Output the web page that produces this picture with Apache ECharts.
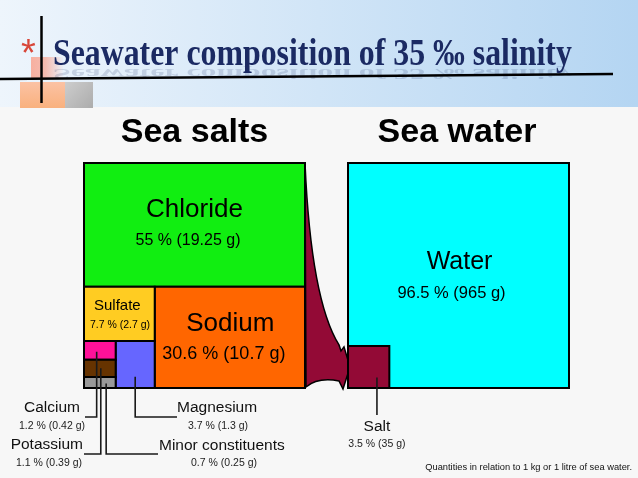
<!DOCTYPE html>
<html><head><meta charset="utf-8">
<script src="https://cdn.jsdelivr.net/npm/echarts@6/dist/echarts.min.js"></script>
<style>html,body{margin:0;padding:0;background:#fff}#c{width:638px;height:478px}</style>
</head><body><div id="c"></div>
<script>
// ---- data ----
const titleText = 'Seawater composition of 35 \u2030 salinity';
const headers = ['Sea salts', 'Sea water'];
const saltNames = ['Chloride', 'Sodium', 'Sulfate', 'Magnesium', 'Calcium', 'Potassium', 'Minor constituents'];
const saltPercent = [55, 30.6, 7.7, 3.7, 1.2, 1.1, 0.7];
const saltGrams = [19.25, 10.7, 2.7, 1.3, 0.42, 0.39, 0.25];
const waterNames = ['Water', 'Salt'];
const waterPercent = [96.5, 3.5];
const waterGrams = [965, 35];
const noteText = 'Quantities in relation to 1 kg or 1 litre of sea water.';

// ---- styles ----
const SANS = '"Liberation Sans", Arial, sans-serif';
const SERIF = '"Liberation Serif", "Times New Roman", serif';
const colors = {
  'Chloride': '#11ee11', 'Sodium': '#ff6600', 'Sulfate': '#ffcc22', 'Magnesium': '#6666ff',
  'Calcium': '#ff1199', 'Potassium': '#663300', 'Minor constituents': '#999999',
  'Water': '#00ffff', 'Salt': '#930a36'
};
// nesting of the slice-and-dice layout (alternating vertical / horizontal cuts)
const saltTree = ['Chloride', [['Sulfate', [['Calcium', 'Potassium', 'Minor constituents'], 'Magnesium']], 'Sodium']];
// inner labels: [dx, dy, fontSize] relative to cell centre
const innerLabels = {
  'Chloride': { n: [0, -15, 26], v: [-6.5, 16, 16] },
  'Sodium': { n: [0.5, -13.5, 26], v: [-6, 16.5, 18] },
  'Sulfate': { n: [-2, -7.5, 15], v: [0.6, 11, 10.5] },
  'Water': { n: [1, -13.5, 25], v: [-7, 17.5, 16.5] }
};
// callouts: anchor fraction in cell, elbow offset below box, end x offset from box left, label placement
const callouts = {
  'Calcium': { ax: 0.4, ay: 0.58, elbow: 29, endX: 1, n: [-4, 20, 'right'], v: [-32, 38] },
  'Potassium': { ax: 0.53, ay: 0.5, elbow: 66, endX: 0, n: [-1, 57, 'right'], v: [-35, 75] },
  'Minor constituents': { ax: 0.7, ay: 0.6, elbow: 66, endX: 74, n: [75, 58, 'left'], v: [140, 75] },
  'Magnesium': { ax: 0.5, ay: 0.76, elbow: 29, endX: 93, n: [93, 20, 'left'], v: [134, 38] },
  'Salt': { ax: 0.7, ay: 0.75, elbow: 27, endX: null, n: [null, 39, 'center'], v: [null, 56] }
};

function fmt(p, g) { return p + ' % (' + g + ' g)'; }

// ---- slice-and-dice layout from the values ----
function leafSum(node) {
  return typeof node === 'string' ? saltPercent[saltNames.indexOf(node)] : node.reduce((s, n) => s + leafSum(n), 0);
}
function layout(node, x0, y0, x1, y1, vertical, out) {
  if (typeof node === 'string') { out.push([x0, y0, x1, y1, saltNames.indexOf(node)]); return; }
  const total = leafSum(node);
  let pos = vertical ? y0 : x0;
  node.forEach(ch => {
    const f = leafSum(ch) / total;
    if (vertical) { const h = (y1 - y0) * f; layout(ch, x0, pos, x1, pos + h, !vertical, out); pos += h; }
    else { const w = (x1 - x0) * f; layout(ch, pos, y0, pos + w, y1, !vertical, out); pos += w; }
  });
}
const saltData = [];
layout(saltTree, 0, 0, 1, 1, true, saltData);
const saltSide = Math.sqrt(waterPercent[1] / waterPercent.reduce((a, b) => a + b, 0));
const waterData = [[0, 0, 1, 1, 0], [0, 1 - saltSide, saltSide, 1, 1]];

function makeRender(names, percents, grams) {
  return function (params, api) {
    const i = api.value(4);
    const name = names[i];
    const a = api.coord([api.value(0), api.value(1)]);
    const b = api.coord([api.value(2), api.value(3)]);
    const x = a[0], y = a[1], w = b[0] - a[0], h = b[1] - a[1];
    const cx = x + w / 2, cy = y + h / 2;
    const corner = api.coord([0, 1]);
    const L = corner[0], B = corner[1];
    const ch = [{ type: 'rect', z2: 1 + i, shape: { x: x, y: y, width: w, height: h },
      style: { fill: colors[name], stroke: '#000', lineWidth: 2 } }];
    const lab = innerLabels[name];
    if (lab) {
      ch.push({ type: 'text', z2: 20, style: { text: name, x: cx + lab.n[0], y: cy + lab.n[1], fontSize: lab.n[2], fontFamily: SANS, fill: '#000', align: 'center', verticalAlign: 'middle' } });
      ch.push({ type: 'text', z2: 20, style: { text: fmt(percents[i], grams[i]), x: cx + lab.v[0], y: cy + lab.v[1], fontSize: lab.v[2], fontFamily: SANS, fill: '#000', align: 'center', verticalAlign: 'middle' } });
    }
    const co = callouts[name];
    if (co) {
      const lx = x + co.ax * w, ly = y + co.ay * h;
      const pts = [[lx, ly], [lx, B + co.elbow]];
      if (co.endX !== null) pts.push([L + co.endX, B + co.elbow]);
      ch.push({ type: 'polyline', z2: 30, shape: { points: pts }, style: { stroke: '#1a1a1a', lineWidth: 1.6, fill: null } });
      const nx = co.n[0] === null ? lx : L + co.n[0];
      const vx = co.v[0] === null ? lx : L + co.v[0];
      ch.push({ type: 'text', z2: 20, style: { text: name, x: nx, y: B + co.n[1], fontSize: 15.5, fontFamily: SANS, fill: '#111', align: co.n[2], verticalAlign: 'middle' } });
      ch.push({ type: 'text', z2: 20, style: { text: fmt(percents[i], grams[i]), x: vx, y: B + co.v[1], fontSize: 10.5, fontFamily: SANS, fill: '#222', align: 'center', verticalAlign: 'middle' } });
    }
    return { type: 'group', children: ch };
  };
}

const chart = echarts.init(document.getElementById('c'));
const axisBase = { type: 'value', min: 0, max: 1, show: false };
const baseSeries = [
  { type: 'custom', z: 3, xAxisIndex: 0, yAxisIndex: 0, encode: { x: [0, 2], y: [1, 3] }, data: saltData,
    renderItem: makeRender(saltNames, saltPercent, saltGrams), clip: false },
  { type: 'custom', z: 3, xAxisIndex: 1, yAxisIndex: 1, encode: { x: [0, 2], y: [1, 3] }, data: waterData,
    renderItem: makeRender(waterNames, waterPercent, waterGrams), clip: false }
];
chart.setOption({
  animation: false,
  backgroundColor: '#f7f7f7',
  grid: [
    { left: 84, top: 163, width: 221, height: 225 },
    { left: 348, top: 163, width: 221, height: 225 }
  ],
  xAxis: [Object.assign({ gridIndex: 0 }, axisBase), Object.assign({ gridIndex: 1 }, axisBase)],
  yAxis: [Object.assign({ gridIndex: 0, inverse: true }, axisBase), Object.assign({ gridIndex: 1, inverse: true }, axisBase)],
  series: baseSeries
});

// ---- positions read back from the grids ----
const s0tr = chart.convertToPixel({ gridIndex: 0 }, [1, 0]);
const s0br = chart.convertToPixel({ gridIndex: 0 }, [1, 1]);
const s0tc = chart.convertToPixel({ gridIndex: 0 }, [0.5, 0]);
const s1tc = chart.convertToPixel({ gridIndex: 1 }, [0.5, 0]);
const s1br = chart.convertToPixel({ gridIndex: 1 }, [1, 1]);
const saltTL = chart.convertToPixel({ gridIndex: 1 }, [0, 1 - saltSide]);
const saltBL = chart.convertToPixel({ gridIndex: 1 }, [0, 1]);
const bx = s0tr[0], by0 = s0tr[1], tx = saltTL[0], ty0 = saltTL[1], ty1 = saltBL[1];
const pts = [
  ['M', bx, by0],
  ['Q', bx + 6, by0 + 137, tx - 9, ty0 - 1],
  ['L', tx - 7, ty0 + 5],
  ['L', tx - 4, ty0 + 1],
  ['L', tx + 2, (ty0 + ty1) / 2],
  ['L', tx - 5, ty1 + 1],
  ['L', tx - 9, ty1 - 7],
  ['Q', bx + 13, ty1 - 11, bx + 1, s0br[1] - 1]
];
const arrowPath = pts.map(p => p[0] + p.slice(1).join(',')).join(' ') + ' Z';

chart.setOption({
  series: baseSeries.concat([{
    type: 'custom', z: 2, xAxisIndex: 0, yAxisIndex: 0, data: [[1, 1]], clip: false, silent: true,
    renderItem: function () {
      return { type: 'path', shape: { pathData: arrowPath },
        style: { fill: colors['Salt'], stroke: '#000', lineWidth: 1.5, lineJoin: 'miter' } };
    }
  }]),
  graphic: [
    { type: 'rect', z: -10, shape: { x: 0, y: 0, width: 638, height: 107 },
      style: { fill: new echarts.graphic.LinearGradient(0, 0, 1, 0, [{ offset: 0, color: '#eef5fc' }, { offset: 1, color: '#b4d5f2' }]) } },
    { type: 'rect', z: -9, shape: { x: 31, y: 57, width: 32, height: 22 },
      style: { fill: new echarts.graphic.LinearGradient(0, 0, 1, 0, [{ offset: 0, color: 'rgba(248,168,150,0.9)' }, { offset: 0.45, color: 'rgba(248,168,150,0.75)' }, { offset: 1, color: 'rgba(248,168,150,0.05)' }]) } },
    { type: 'rect', z: -9, shape: { x: 20, y: 82, width: 45, height: 26 },
      style: { fill: new echarts.graphic.LinearGradient(0, 0, 0, 1, [{ offset: 0, color: '#fbc2a4' }, { offset: 1, color: '#f9b17e' }]) } },
    { type: 'rect', z: -9, shape: { x: 65, y: 82, width: 28, height: 26 },
      style: { fill: new echarts.graphic.LinearGradient(0, 0, 1, 1, [{ offset: 0, color: '#cdcdcd' }, { offset: 1, color: '#acacac' }]) } },
    { type: 'text', z: -8, x: 53, y: 64.8, scaleX: 0.86, scaleY: -0.42,
      style: { text: titleText, font: 'bold 37px ' + SERIF, fill: 'rgba(27,42,99,0.16)', verticalAlign: 'bottom' } },
    { type: 'line', z: -7, shape: { x1: 0, y1: 79, x2: 613, y2: 74 }, style: { stroke: '#000', lineWidth: 2.5 } },
    { type: 'line', z: -7, shape: { x1: 41.5, y1: 16, x2: 41.5, y2: 103 }, style: { stroke: '#000', lineWidth: 2.5 } },
    { type: 'text', z: -6, x: 53, y: 55.5, scaleX: 0.86,
      style: { text: titleText, font: 'bold 37px ' + SERIF, fill: '#1b2a63', verticalAlign: 'middle' } },
    { type: 'text', z: -6, x: 28.5, y: 56,
      style: { text: '*', font: '38px ' + SANS, fill: '#d8473a', align: 'center', verticalAlign: 'middle' } },
    { type: 'text', z: 1, x: s0tc[0], y: s0tc[1] - 30,
      style: { text: headers[0], font: 'bold 34px ' + SANS, fill: '#000', align: 'center', verticalAlign: 'middle' } },
    { type: 'text', z: 1, x: s1tc[0] - 1.5, y: s1tc[1] - 30,
      style: { text: headers[1], font: 'bold 34px ' + SANS, fill: '#000', align: 'center', verticalAlign: 'middle' } },
    { type: 'text', z: 1, x: s1br[0] + 63, y: s1br[1] + 79,
      style: { text: noteText, font: '9.3px ' + SANS, fill: '#111', align: 'right', verticalAlign: 'middle' } }
  ]
});
</script></body></html>
